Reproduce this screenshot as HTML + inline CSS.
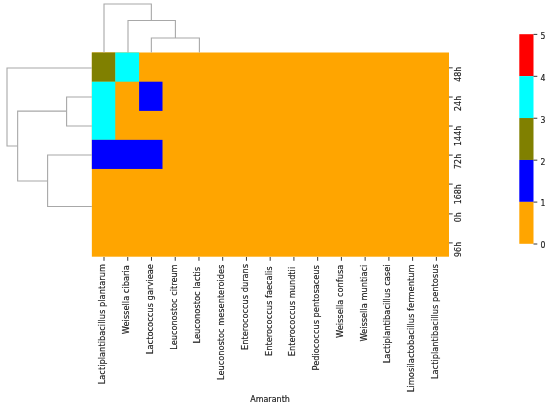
<!DOCTYPE html><html><head><meta charset="utf-8"><style>html,body{margin:0;padding:0;background:#fff;width:550px;height:406px;overflow:hidden}svg{display:block}text{font-family:"DejaVu Sans","Liberation Sans",sans-serif;font-size:8.45px;fill:#1a1a1a;stroke:#1a1a1a;stroke-width:0.15px}</style></head><body>
<svg width="550" height="406" viewBox="0 0 550 406">
<rect x="91.85" y="52.50" width="357.15" height="204.20" fill="#ffa500"/>
<rect x="91.85" y="52.50" width="23.40" height="29.20" fill="#808000"/>
<rect x="115.25" y="52.50" width="23.85" height="29.20" fill="#00ffff"/>
<rect x="91.85" y="81.70" width="23.40" height="58.15" fill="#00ffff"/>
<rect x="139.10" y="81.70" width="23.40" height="29.20" fill="#0000ff"/>
<rect x="91.85" y="139.85" width="70.65" height="29.10" fill="#0000ff"/>
<polyline points="104.00,52.50 104.00,4.00 151.35,4.00 151.35,20.50" fill="none" stroke="#a8a8a8" stroke-width="1.1"/>
<polyline points="128.00,52.50 128.00,20.50 175.40,20.50 175.40,38.00" fill="none" stroke="#a8a8a8" stroke-width="1.1"/>
<polyline points="151.35,52.50 151.35,38.00 199.40,38.00 199.40,52.50" fill="none" stroke="#a8a8a8" stroke-width="1.1"/>
<polyline points="91.85,68.00 7.00,68.00 7.00,146.00 17.65,146.00" fill="none" stroke="#a8a8a8" stroke-width="1.1"/>
<polyline points="66.60,111.10 17.65,111.10 17.65,181.00 47.60,181.00" fill="none" stroke="#a8a8a8" stroke-width="1.1"/>
<polyline points="91.85,97.00 66.60,97.00 66.60,126.00 91.85,126.00" fill="none" stroke="#a8a8a8" stroke-width="1.1"/>
<polyline points="91.85,155.05 47.60,155.05 47.60,206.50 91.85,206.50" fill="none" stroke="#a8a8a8" stroke-width="1.1"/>
<line x1="104.00" y1="257.0" x2="104.00" y2="260.8" stroke="#222" stroke-width="0.9"/>
<text transform="translate(105.40,264.00) rotate(-90)" text-anchor="end" style="font-size:8.318px">Lactiplantibacillus plantarum</text>
<line x1="127.74" y1="257.0" x2="127.74" y2="260.8" stroke="#222" stroke-width="0.9"/>
<text transform="translate(129.14,265.10) rotate(-90)" text-anchor="end" style="font-size:8.317px">Weissella cibaria</text>
<line x1="151.48" y1="257.0" x2="151.48" y2="260.8" stroke="#222" stroke-width="0.9"/>
<text transform="translate(152.88,264.00) rotate(-90)" text-anchor="end" style="font-size:8.338px">Lactococcus garvieae</text>
<line x1="175.22" y1="257.0" x2="175.22" y2="260.8" stroke="#222" stroke-width="0.9"/>
<text transform="translate(176.62,264.40) rotate(-90)" text-anchor="end" style="font-size:8.209px">Leuconostoc citreum</text>
<line x1="198.96" y1="257.0" x2="198.96" y2="260.8" stroke="#222" stroke-width="0.9"/>
<text transform="translate(200.36,266.80) rotate(-90)" text-anchor="end" style="font-size:8.340px">Leuconostoc lactis</text>
<line x1="222.70" y1="257.0" x2="222.70" y2="260.8" stroke="#222" stroke-width="0.9"/>
<text transform="translate(224.10,264.70) rotate(-90)" text-anchor="end" style="font-size:8.249px">Leuconostoc mesenteroides</text>
<line x1="246.44" y1="257.0" x2="246.44" y2="260.8" stroke="#222" stroke-width="0.9"/>
<text transform="translate(247.84,263.90) rotate(-90)" text-anchor="end" style="font-size:8.248px">Enterococcus durans</text>
<line x1="270.18" y1="257.0" x2="270.18" y2="260.8" stroke="#222" stroke-width="0.9"/>
<text transform="translate(271.58,266.40) rotate(-90)" text-anchor="end" style="font-size:8.292px">Enterococcus faecalis</text>
<line x1="293.92" y1="257.0" x2="293.92" y2="260.8" stroke="#222" stroke-width="0.9"/>
<text transform="translate(295.32,266.80) rotate(-90)" text-anchor="end" style="font-size:8.255px">Enterococcus mundtii</text>
<line x1="317.66" y1="257.0" x2="317.66" y2="260.8" stroke="#222" stroke-width="0.9"/>
<text transform="translate(319.06,265.10) rotate(-90)" text-anchor="end" style="font-size:8.268px">Pediococcus pentosaceus</text>
<line x1="341.40" y1="257.0" x2="341.40" y2="260.8" stroke="#222" stroke-width="0.9"/>
<text transform="translate(342.80,264.70) rotate(-90)" text-anchor="end" style="font-size:8.258px">Weissella confusa</text>
<line x1="365.14" y1="257.0" x2="365.14" y2="260.8" stroke="#222" stroke-width="0.9"/>
<text transform="translate(366.54,264.70) rotate(-90)" text-anchor="end" style="font-size:8.268px">Weissella muntiaci</text>
<line x1="388.88" y1="257.0" x2="388.88" y2="260.8" stroke="#222" stroke-width="0.9"/>
<text transform="translate(390.28,264.40) rotate(-90)" text-anchor="end" style="font-size:8.323px">Lactiplantibacillus casei</text>
<line x1="412.62" y1="257.0" x2="412.62" y2="260.8" stroke="#222" stroke-width="0.9"/>
<text transform="translate(414.02,264.40) rotate(-90)" text-anchor="end" style="font-size:8.345px">Limosilactobacillus fermentum</text>
<line x1="436.36" y1="257.0" x2="436.36" y2="260.8" stroke="#222" stroke-width="0.9"/>
<text transform="translate(437.76,264.30) rotate(-90)" text-anchor="end" style="font-size:8.276px">Lactiplantibacillus pentosus</text>
<line x1="449.00" y1="67.85" x2="452.70" y2="67.85" stroke="#222" stroke-width="0.9"/>
<text transform="translate(460.5,66.75) rotate(-90) scale(0.94,1)" text-anchor="end" style="font-size:8.4px">48h</text>
<line x1="449.00" y1="97.04" x2="452.70" y2="97.04" stroke="#222" stroke-width="0.9"/>
<text transform="translate(460.5,95.85) rotate(-90) scale(0.94,1)" text-anchor="end" style="font-size:8.4px">24h</text>
<line x1="449.00" y1="126.04" x2="452.70" y2="126.04" stroke="#222" stroke-width="0.9"/>
<text transform="translate(460.5,125.85) rotate(-90) scale(0.94,1)" text-anchor="end" style="font-size:8.4px">144h</text>
<line x1="449.00" y1="155.10" x2="452.70" y2="155.10" stroke="#222" stroke-width="0.9"/>
<text transform="translate(460.5,153.85) rotate(-90) scale(0.94,1)" text-anchor="end" style="font-size:8.4px">72h</text>
<line x1="449.00" y1="184.10" x2="452.70" y2="184.10" stroke="#222" stroke-width="0.9"/>
<text transform="translate(460.5,184.25) rotate(-90) scale(0.94,1)" text-anchor="end" style="font-size:8.4px">168h</text>
<line x1="449.00" y1="213.90" x2="452.70" y2="213.90" stroke="#222" stroke-width="0.9"/>
<text transform="translate(460.5,212.15) rotate(-90) scale(0.94,1)" text-anchor="end" style="font-size:8.4px">0h</text>
<line x1="449.00" y1="242.90" x2="452.70" y2="242.90" stroke="#222" stroke-width="0.9"/>
<text transform="translate(460.5,241.85) rotate(-90) scale(0.94,1)" text-anchor="end" style="font-size:8.4px">96h</text>
<rect x="519.3" y="34.20" width="14.20" height="41.92" fill="#ff0000"/>
<rect x="519.3" y="76.12" width="14.20" height="41.92" fill="#00ffff"/>
<rect x="519.3" y="118.04" width="14.20" height="41.92" fill="#808000"/>
<rect x="519.3" y="159.96" width="14.20" height="41.92" fill="#0000ff"/>
<rect x="519.3" y="201.88" width="14.20" height="41.92" fill="#ffa500"/>
<line x1="533.5" y1="244.00" x2="537.30" y2="244.00" stroke="#222" stroke-width="0.9"/>
<text transform="translate(540.4,248.40) scale(0.92,1)">0</text>
<line x1="533.5" y1="202.08" x2="537.30" y2="202.08" stroke="#222" stroke-width="0.9"/>
<text transform="translate(540.4,206.48) scale(0.92,1)">1</text>
<line x1="533.5" y1="160.16" x2="537.30" y2="160.16" stroke="#222" stroke-width="0.9"/>
<text transform="translate(540.4,164.56) scale(0.92,1)">2</text>
<line x1="533.5" y1="118.24" x2="537.30" y2="118.24" stroke="#222" stroke-width="0.9"/>
<text transform="translate(540.4,122.64) scale(0.92,1)">3</text>
<line x1="533.5" y1="76.32" x2="537.30" y2="76.32" stroke="#222" stroke-width="0.9"/>
<text transform="translate(540.4,80.72) scale(0.92,1)">4</text>
<line x1="533.5" y1="34.40" x2="537.30" y2="34.40" stroke="#222" stroke-width="0.9"/>
<text transform="translate(540.4,38.80) scale(0.92,1)">5</text>
<text x="270.03" y="401.5" text-anchor="middle" style="font-size:8.0px">Amaranth</text>
</svg></body></html>
